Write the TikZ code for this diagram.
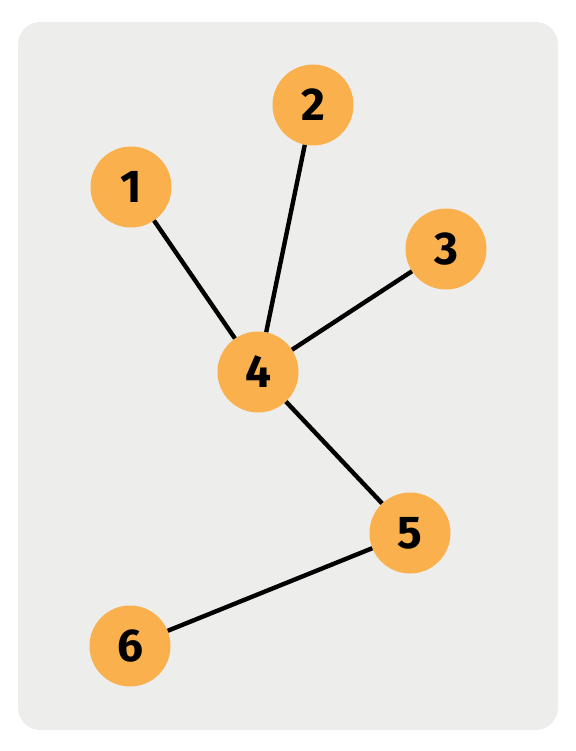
\documentclass[tikz,border=0pt]{standalone}
\usepackage{fontspec}
\setmainfont{Fira Sans}
\definecolor{bgc}{HTML}{EDEDEB}
\definecolor{nodec}{HTML}{F9B04D}
\begin{document}
\begin{tikzpicture}[x=1pt,y=-1pt,
  vtx/.style={circle,fill=nodec,minimum size=81pt,inner sep=0pt,font=\fontsize{46}{46}\selectfont\bfseries},
  edge/.style={line width=4.4pt,black}]
\useasboundingbox (0,0) rectangle (575,751);
\fill[bgc,rounded corners=22pt] (18,22) rectangle (558,730);
\node[vtx] (n1) at (131,187) {1};
\node[vtx] (n2) at (313,105) {2};
\node[vtx] (n3) at (446,249) {3};
\node[vtx] (n4) at (258,372) {4};
\node[vtx] (n5) at (410,533) {5};
\node[vtx] (n6) at (130,646) {6};
\draw[edge] (n1) -- (n4);
\draw[edge] (n2) -- (n4);
\draw[edge] (n3) -- (n4);
\draw[edge] (n4) -- (n5);
\draw[edge] (n5) -- (n6);
\end{tikzpicture}
\end{document}
